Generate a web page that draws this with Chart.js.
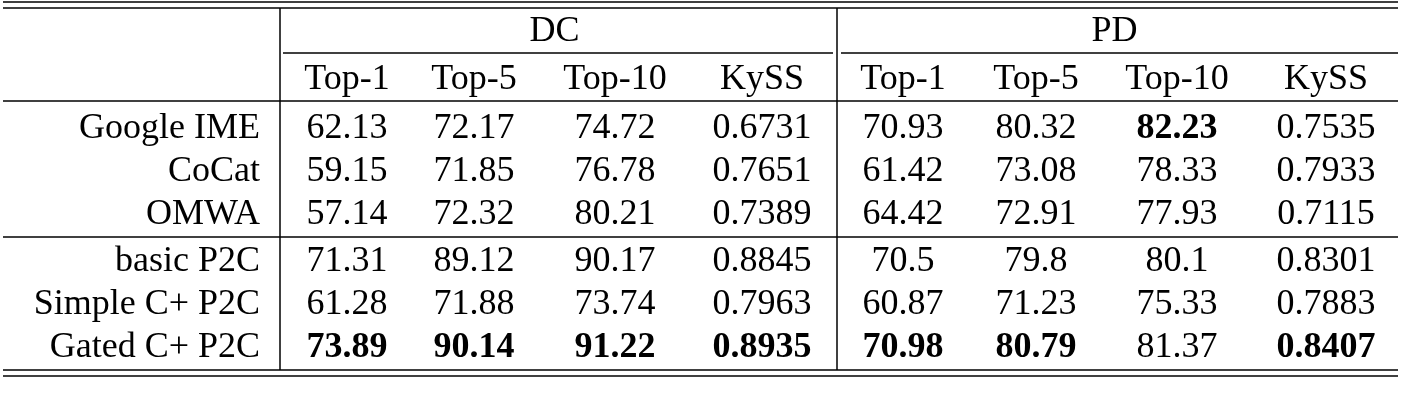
<!DOCTYPE html>
<html>
<head>
<meta charset="utf-8">
<script src="https://cdn.jsdelivr.net/npm/chart.js@4"></script>
<style>
  html, body { margin: 0; padding: 0; background: #fff; }
  #wrap { width: 1401px; height: 402px; }
</style>
</head>
<body>
<div id="wrap"><canvas id="tableChart"></canvas></div>
<script>
// table content
const groups = ['DC', 'PD'];
const metrics = ['Top-1', 'Top-5', 'Top-10', 'KySS'];
const methods = ['Google IME', 'CoCat', 'OMWA', 'basic P2C', 'Simple C+ P2C', 'Gated C+ P2C'];
const googleIME = ['62.13', '72.17', '74.72', '0.6731', '70.93', '80.32', '82.23', '0.7535'];
const cocat = ['59.15', '71.85', '76.78', '0.7651', '61.42', '73.08', '78.33', '0.7933'];
const omwa = ['57.14', '72.32', '80.21', '0.7389', '64.42', '72.91', '77.93', '0.7115'];
const basicP2C = ['71.31', '89.12', '90.17', '0.8845', '70.5', '79.8', '80.1', '0.8301'];
const simpleP2C = ['61.28', '71.88', '73.74', '0.7963', '60.87', '71.23', '75.33', '0.7883'];
const gatedP2C = ['73.89', '90.14', '91.22', '0.8935', '70.98', '80.79', '81.37', '0.8407'];
const values = [googleIME, cocat, omwa, basicP2C, simpleP2C, gatedP2C];
// best results shown in bold: [row, col]
const boldCells = [[0, 6], [5, 0], [5, 1], [5, 2], [5, 3], [5, 4], [5, 5], [5, 7]];

// layout (in scale units = pixels)
const colCenters = [347, 474, 615, 762, 903, 1036, 1177, 1326];
const labelRight = 260;
const rowY = [129, 172, 215, 262, 305, 348];
const FONT = '36px "Liberation Serif", "Times New Roman", serif';

const tablePlugin = {
  id: 'tablePlugin',
  afterDraw(chart) {
    const { ctx, scales: { x, y } } = chart;
    const X = v => x.getPixelForValue(v);
    const Y = v => y.getPixelForValue(v);
    ctx.save();
    ctx.fillStyle = '#000';
    ctx.strokeStyle = '#000';
    ctx.textBaseline = 'middle';
    const hline = (yy, x0, x1, w) => {
      ctx.lineWidth = w || 1.5;
      ctx.beginPath(); ctx.moveTo(X(x0), Y(yy)); ctx.lineTo(X(x1), Y(yy)); ctx.stroke();
    };
    const vline = (xx, y0, y1) => {
      ctx.lineWidth = 1.5;
      ctx.beginPath(); ctx.moveTo(X(xx), Y(y0)); ctx.lineTo(X(xx), Y(y1)); ctx.stroke();
    };
    hline(2, 3, 1398); hline(8, 3, 1398);
    hline(53, 283, 833); hline(53, 841, 1398);
    hline(101, 3, 1398);
    hline(237, 3, 1398);
    hline(370, 3, 1398); hline(376, 3, 1398);
    vline(280, 8, 370); vline(837, 8, 370);

    ctx.font = FONT;
    ctx.textAlign = 'center';
    ctx.fillText(groups[0], X((colCenters[0] + colCenters[3]) / 2), Y(32));
    ctx.fillText(groups[1], X((colCenters[4] + colCenters[7]) / 2), Y(32));
    colCenters.forEach((c, i) => ctx.fillText(metrics[i % 4], X(c), Y(80)));

    methods.forEach((m, r) => {
      ctx.font = FONT;
      ctx.textAlign = 'right';
      ctx.fillText(m, X(labelRight), Y(rowY[r]));
      ctx.textAlign = 'center';
      values[r].forEach((v, c) => {
        const bold = boldCells.some(b => b[0] === r && b[1] === c);
        ctx.font = (bold ? 'bold ' : '') + FONT;
        ctx.fillText(v, X(colCenters[c]), Y(rowY[r]));
      });
    });
    ctx.restore();
  }
};

new Chart(document.getElementById('tableChart').getContext('2d'), {
  type: 'scatter',
  data: { datasets: [{ data: [] }] },
  options: {
    responsive: true,
    maintainAspectRatio: false,
    animation: false,
    layout: { padding: 0 },
    plugins: { legend: { display: false }, tooltip: { enabled: false } },
    scales: {
      x: { type: 'linear', min: 0, max: 1401, display: false },
      y: { type: 'linear', min: 0, max: 402, reverse: true, display: false }
    }
  },
  plugins: [tablePlugin]
});
</script>
</body>
</html>
